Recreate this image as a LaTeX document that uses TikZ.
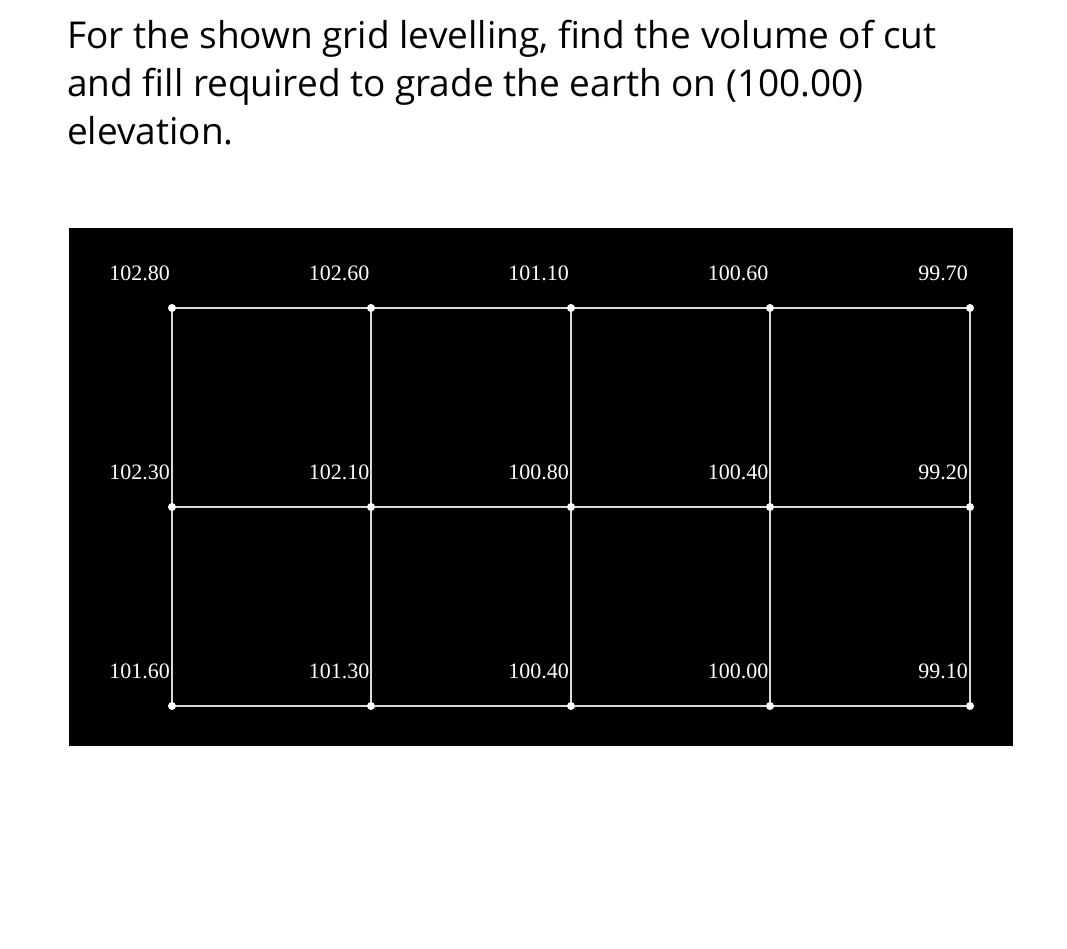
\documentclass[tikz,border=0pt]{standalone}
\usepackage{fontspec}
\setmainfont{Liberation Serif}
\newfontfamily\titlefont{Open Sans}
\begin{document}
\begin{tikzpicture}[x=1pt,y=-1pt,
  gridline/.style={draw=white!85!black,line width=1.2pt},
  pt/.style={circle,fill=white,inner sep=0pt,minimum size=8pt},
  lbl/.style={text=white,font=\fontsize{22}{24}\selectfont,anchor=base east,inner sep=0pt}]
\useasboundingbox (0,0) rectangle (1067,948);
\fill[white] (0,0) rectangle (1067,948);
\node[anchor=north west,align=left,inner sep=0pt,font=\titlefont\fontsize{37}{48}\selectfont] (title) at (67,20)
 {For the shown grid levelling, find the volume of cut\\and fill required to grade the earth on (100.00)\\elevation.};
\fill[black] (69,228) rectangle (1013,746);
\foreach \x [count=\i] in {172,371,571,770,970}{
  \foreach \y [count=\j] in {308,507,706}{
    \coordinate (p\i\j) at (\x,\y);
  }
}
\foreach \i in {1,...,5} \draw[gridline] (p\i1) -- (p\i3);
\foreach \j in {1,2,3} \draw[gridline] (p1\j) -- (p5\j);
\foreach \i in {1,...,5} \foreach \j in {1,2,3} \node[pt] (d\i\j) at (p\i\j) {};
\foreach \v [count=\i] in {102.80,102.60,101.10,100.60,99.70} \node[lbl] (a\i) at (\i*199.5-29.5,280) {\v};
\foreach \v [count=\i] in {102.30,102.10,100.80,100.40,99.20} \node[lbl] (b\i) at (\i*199.5-29.5,479) {\v};
\foreach \v [count=\i] in {101.60,101.30,100.40,100.00,99.10} \node[lbl] (c\i) at (\i*199.5-29.5,678) {\v};
\end{tikzpicture}
\end{document}
